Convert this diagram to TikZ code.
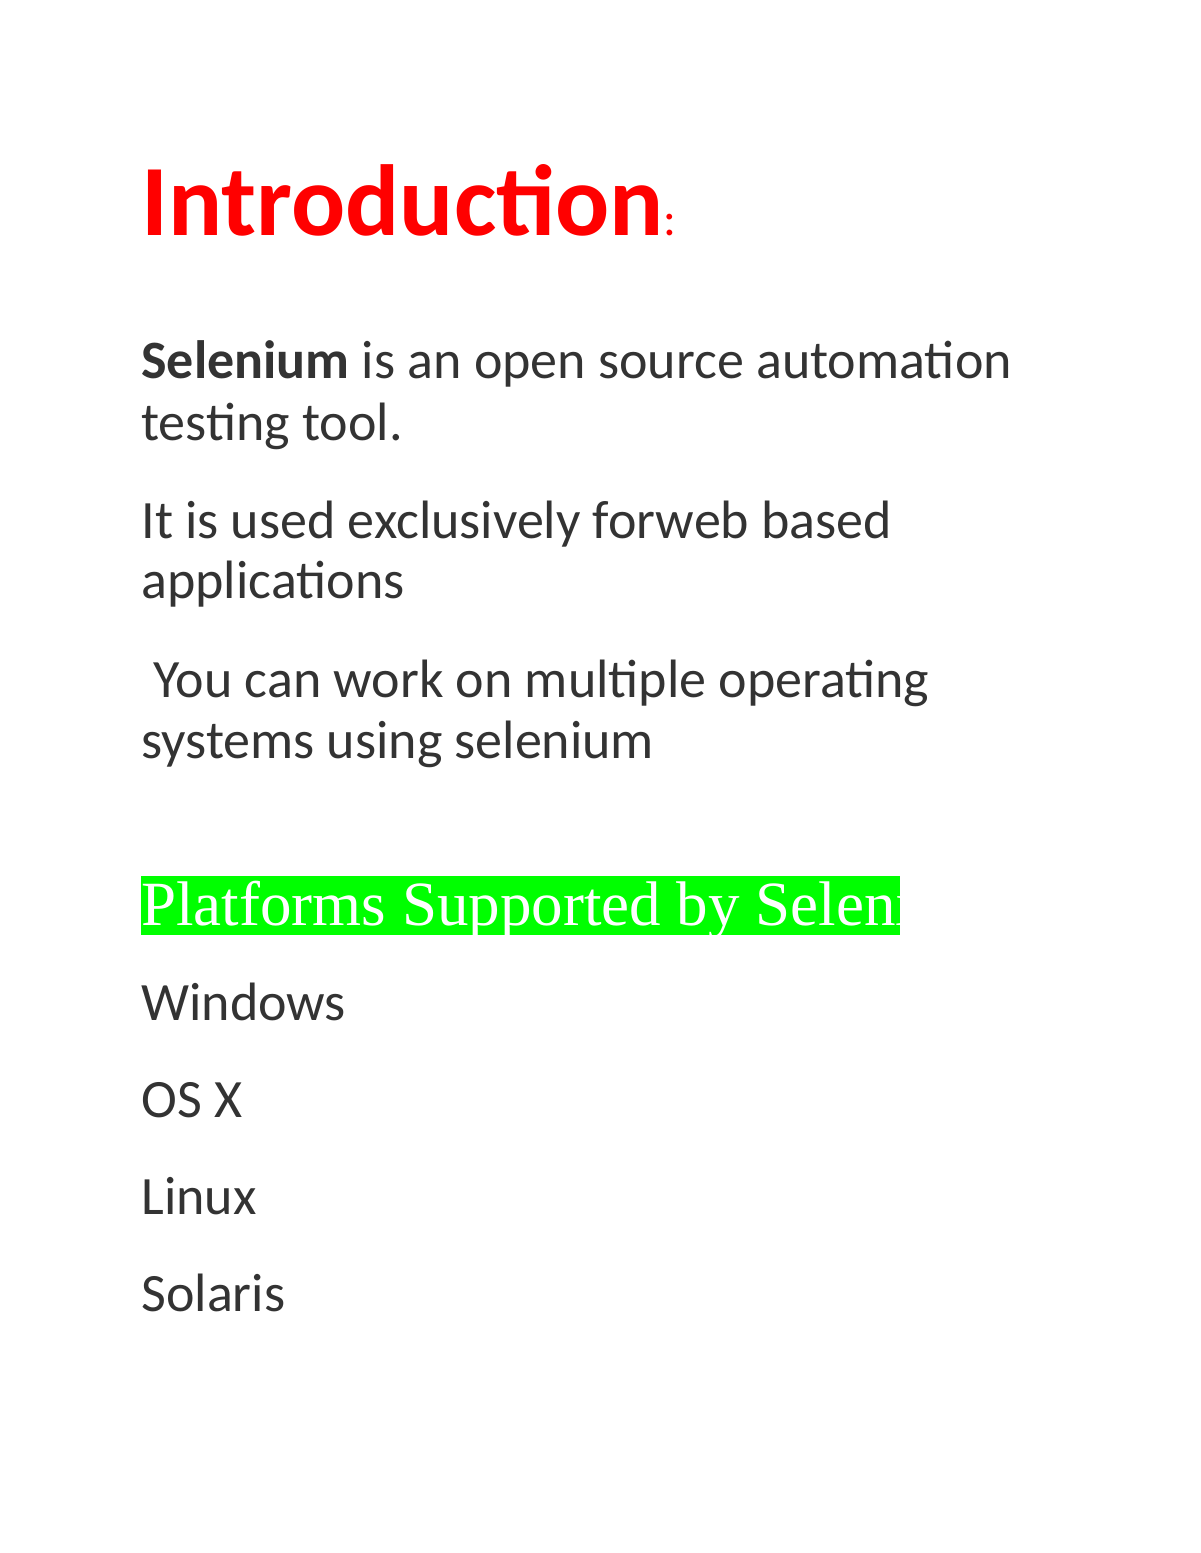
\documentclass[tikz,border=0pt]{standalone}
\usepackage{fontspec}
\setmainfont{Carlito}
\newfontfamily\tnr{Liberation Serif}
\definecolor{txt}{HTML}{333333}
\definecolor{hl}{HTML}{00FF00}
\begin{document}
\begin{tikzpicture}[x=0.5pt,y=-0.5pt,
  t/.style={anchor=base west,inner sep=0pt,text=txt,font=\fontsize{27}{31}\selectfont}]
\useasboundingbox (0,0) rectangle (1200,1553);
\node[anchor=base west,inner sep=0pt,text=red] (intro) at (141,235) {\fontsize{50.5}{56}\selectfont\bfseries Introduction\fontsize{24}{28}\selectfont\mdseries:};
\node[t] (l1) at (141,378) {\textbf{Selenium} is an open source automation};
\node[t] (l2) at (141,440) {testing tool.};
\node[t] (l3) at (141,538) {It is used exclusively forweb based};
\node[t] (l4) at (141,598) {applications};
\node[t] (l5) at (141,697) {\ You can work on multiple operating};
\node[t] (l6) at (141,758) {systems using selenium};
\fill[hl] (141,876) rectangle (900,935);
\node[anchor=base west,inner sep=0pt,text=white] (plat) at (141,925) {\tnr\fontsize{31.5}{36}\selectfont Platforms Supported by Selenium};
\node[t] (w) at (141,1020) {Windows};
\node[t] (o) at (141,1117) {OS X};
\node[t] (li) at (141,1214) {Linux};
\node[t] (s) at (141,1311) {Solaris};
\end{tikzpicture}
\end{document}
